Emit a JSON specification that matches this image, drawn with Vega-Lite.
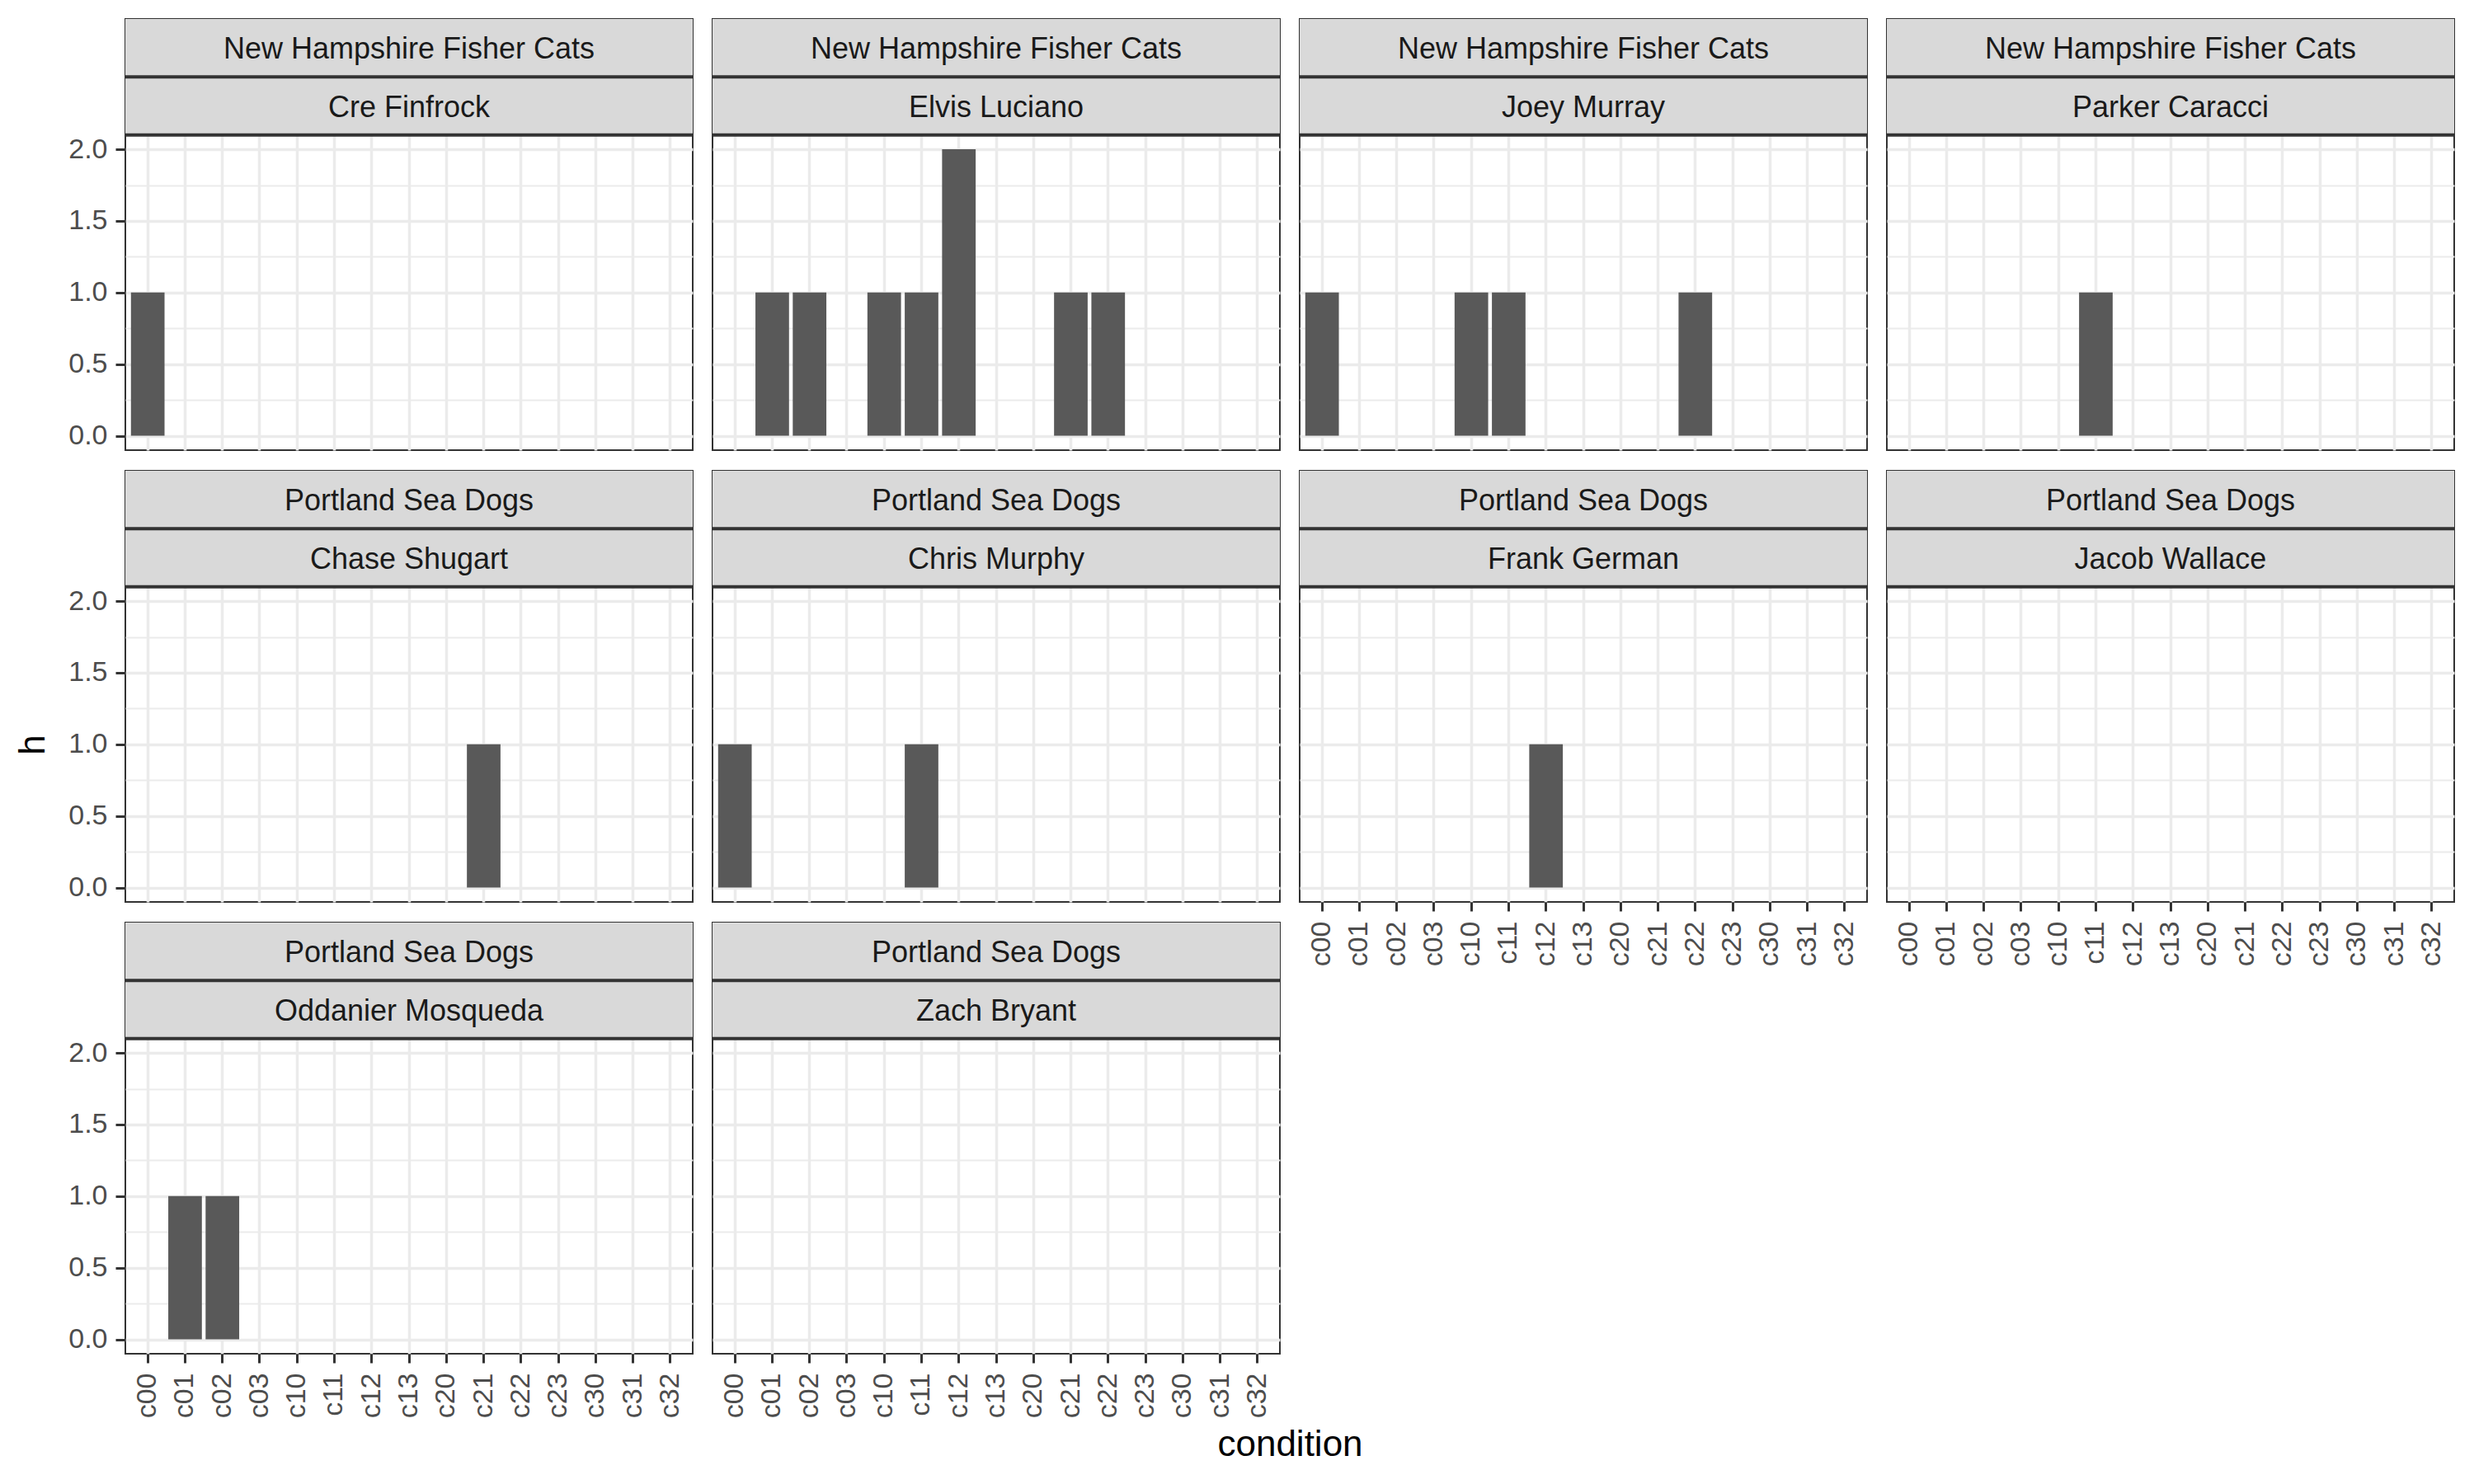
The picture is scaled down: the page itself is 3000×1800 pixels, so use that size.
{
  "$schema": "https://vega.github.io/schema/vega-lite/v6.json",
  "background": "white",
  "padding": {"left": 17, "top": 22, "right": 0, "bottom": 0},
  "autosize": {"type": "pad"},
  "columns": 4,
  "spacing": {"row": 25, "column": 24},
  "bounds": "flush",
  "datasets": {
    "bars": [
      {"team": "New Hampshire Fisher Cats", "player": "Cre Finfrock", "condition": "c00", "h": 1},
      {"team": "New Hampshire Fisher Cats", "player": "Elvis Luciano", "condition": "c01", "h": 1},
      {"team": "New Hampshire Fisher Cats", "player": "Elvis Luciano", "condition": "c02", "h": 1},
      {"team": "New Hampshire Fisher Cats", "player": "Elvis Luciano", "condition": "c10", "h": 1},
      {"team": "New Hampshire Fisher Cats", "player": "Elvis Luciano", "condition": "c11", "h": 1},
      {"team": "New Hampshire Fisher Cats", "player": "Elvis Luciano", "condition": "c12", "h": 2},
      {"team": "New Hampshire Fisher Cats", "player": "Elvis Luciano", "condition": "c21", "h": 1},
      {"team": "New Hampshire Fisher Cats", "player": "Elvis Luciano", "condition": "c22", "h": 1},
      {"team": "New Hampshire Fisher Cats", "player": "Joey Murray", "condition": "c00", "h": 1},
      {"team": "New Hampshire Fisher Cats", "player": "Joey Murray", "condition": "c10", "h": 1},
      {"team": "New Hampshire Fisher Cats", "player": "Joey Murray", "condition": "c11", "h": 1},
      {"team": "New Hampshire Fisher Cats", "player": "Joey Murray", "condition": "c22", "h": 1},
      {"team": "New Hampshire Fisher Cats", "player": "Parker Caracci", "condition": "c11", "h": 1},
      {"team": "Portland Sea Dogs", "player": "Chase Shugart", "condition": "c21", "h": 1},
      {"team": "Portland Sea Dogs", "player": "Chris Murphy", "condition": "c00", "h": 1},
      {"team": "Portland Sea Dogs", "player": "Chris Murphy", "condition": "c11", "h": 1},
      {"team": "Portland Sea Dogs", "player": "Frank German", "condition": "c12", "h": 1},
      {"team": "Portland Sea Dogs", "player": "Oddanier Mosqueda", "condition": "c01", "h": 1},
      {"team": "Portland Sea Dogs", "player": "Oddanier Mosqueda", "condition": "c02", "h": 1}
    ],
    "panels": [
      {"team": "New Hampshire Fisher Cats", "player": "Cre Finfrock"},
      {"team": "New Hampshire Fisher Cats", "player": "Elvis Luciano"},
      {"team": "New Hampshire Fisher Cats", "player": "Joey Murray"},
      {"team": "New Hampshire Fisher Cats", "player": "Parker Caracci"},
      {"team": "Portland Sea Dogs", "player": "Chase Shugart"},
      {"team": "Portland Sea Dogs", "player": "Chris Murphy"},
      {"team": "Portland Sea Dogs", "player": "Frank German"},
      {"team": "Portland Sea Dogs", "player": "Jacob Wallace"},
      {"team": "Portland Sea Dogs", "player": "Oddanier Mosqueda"},
      {"team": "Portland Sea Dogs", "player": "Zach Bryant"}
    ]
  },
  "concat": [
    {
      "width": 688, "height": 523,
      "resolve": {"axis": {"y": "independent"}},
      "layer": [
        {"data": {"name": "panels"}, "transform": [{"filter": {"field": "player", "equal": "Cre Finfrock"}}],
         "mark": {"type": "rect", "fill": "#d9d9d9"},
         "encoding": {"y": {"datum": 2.1, "type": "quantitative", "scale": {"domain": [-0.1, 2.91], "nice": false, "zero": false}, "axis": {"orient": "right", "values": [0.25, 0.75, 1.25, 1.75], "grid": true, "gridWidth": 2, "labels": false, "ticks": false, "domain": false, "title": null}}, "y2": {"datum": 2.91}}},
        {"data": {"name": "bars"}, "transform": [{"filter": {"field": "player", "equal": "Cre Finfrock"}}],
         "mark": {"type": "bar", "color": "#595959"},
         "encoding": {
           "x": {"field": "condition", "type": "nominal", "scale": {"domain": ["c00","c01","c02","c03","c10","c11","c12","c13","c20","c21","c22","c23","c30","c31","c32"], "paddingInner": 0.1, "paddingOuter": 0.15}, "axis": {"grid": true, "bandPosition": 0.5, "labels": false, "ticks": false, "title": null}},
           "y": {"field": "h", "type": "quantitative", "scale": {"domain": [-0.1, 2.91], "nice": false, "zero": false}, "axis": {"values": [0, 0.5, 1, 1.5, 2], "format": ".1f", "grid": true, "title": null}}}},
        {"data": {"name": "panels"}, "transform": [{"filter": {"field": "player", "equal": "Cre Finfrock"}}],
         "mark": {"type": "rule", "color": "#333333", "strokeWidth": 4}, "encoding": {"y": {"datum": 2.1, "type": "quantitative", "axis": null}}},
        {"data": {"name": "panels"}, "transform": [{"filter": {"field": "player", "equal": "Cre Finfrock"}}],
         "mark": {"type": "rule", "color": "#333333", "strokeWidth": 4}, "encoding": {"y": {"datum": 2.505, "type": "quantitative", "axis": null}}},
        {"data": {"name": "panels"}, "transform": [{"filter": {"field": "player", "equal": "Cre Finfrock"}}],
         "mark": {"type": "text", "fontSize": 36, "color": "#1a1a1a", "baseline": "middle", "dy": 2}, "encoding": {"y": {"datum": 2.7075, "type": "quantitative", "axis": null}, "text": {"field": "team"}}},
        {"data": {"name": "panels"}, "transform": [{"filter": {"field": "player", "equal": "Cre Finfrock"}}],
         "mark": {"type": "text", "fontSize": 36, "color": "#1a1a1a", "baseline": "middle", "dy": 2}, "encoding": {"y": {"datum": 2.3025, "type": "quantitative", "axis": null}, "text": {"field": "player"}}}
      ]
    },
    {
      "width": 688, "height": 523,
      "resolve": {"axis": {"y": "independent"}},
      "layer": [
        {"data": {"name": "panels"}, "transform": [{"filter": {"field": "player", "equal": "Elvis Luciano"}}],
         "mark": {"type": "rect", "fill": "#d9d9d9"},
         "encoding": {"y": {"datum": 2.1, "type": "quantitative", "scale": {"domain": [-0.1, 2.91], "nice": false, "zero": false}, "axis": {"orient": "right", "values": [0.25, 0.75, 1.25, 1.75], "grid": true, "gridWidth": 2, "labels": false, "ticks": false, "domain": false, "title": null}}, "y2": {"datum": 2.91}}},
        {"data": {"name": "bars"}, "transform": [{"filter": {"field": "player", "equal": "Elvis Luciano"}}],
         "mark": {"type": "bar", "color": "#595959"},
         "encoding": {
           "x": {"field": "condition", "type": "nominal", "scale": {"domain": ["c00","c01","c02","c03","c10","c11","c12","c13","c20","c21","c22","c23","c30","c31","c32"], "paddingInner": 0.1, "paddingOuter": 0.15}, "axis": {"grid": true, "bandPosition": 0.5, "labels": false, "ticks": false, "title": null}},
           "y": {"field": "h", "type": "quantitative", "scale": {"domain": [-0.1, 2.91], "nice": false, "zero": false}, "axis": {"values": [0, 0.5, 1, 1.5, 2], "grid": true, "labels": false, "ticks": false, "title": null}}}},
        {"data": {"name": "panels"}, "transform": [{"filter": {"field": "player", "equal": "Elvis Luciano"}}],
         "mark": {"type": "rule", "color": "#333333", "strokeWidth": 4}, "encoding": {"y": {"datum": 2.1, "type": "quantitative", "axis": null}}},
        {"data": {"name": "panels"}, "transform": [{"filter": {"field": "player", "equal": "Elvis Luciano"}}],
         "mark": {"type": "rule", "color": "#333333", "strokeWidth": 4}, "encoding": {"y": {"datum": 2.505, "type": "quantitative", "axis": null}}},
        {"data": {"name": "panels"}, "transform": [{"filter": {"field": "player", "equal": "Elvis Luciano"}}],
         "mark": {"type": "text", "fontSize": 36, "color": "#1a1a1a", "baseline": "middle", "dy": 2}, "encoding": {"y": {"datum": 2.7075, "type": "quantitative", "axis": null}, "text": {"field": "team"}}},
        {"data": {"name": "panels"}, "transform": [{"filter": {"field": "player", "equal": "Elvis Luciano"}}],
         "mark": {"type": "text", "fontSize": 36, "color": "#1a1a1a", "baseline": "middle", "dy": 2}, "encoding": {"y": {"datum": 2.3025, "type": "quantitative", "axis": null}, "text": {"field": "player"}}}
      ]
    },
    {
      "width": 688, "height": 523,
      "resolve": {"axis": {"y": "independent"}},
      "layer": [
        {"data": {"name": "panels"}, "transform": [{"filter": {"field": "player", "equal": "Joey Murray"}}],
         "mark": {"type": "rect", "fill": "#d9d9d9"},
         "encoding": {"y": {"datum": 2.1, "type": "quantitative", "scale": {"domain": [-0.1, 2.91], "nice": false, "zero": false}, "axis": {"orient": "right", "values": [0.25, 0.75, 1.25, 1.75], "grid": true, "gridWidth": 2, "labels": false, "ticks": false, "domain": false, "title": null}}, "y2": {"datum": 2.91}}},
        {"data": {"name": "bars"}, "transform": [{"filter": {"field": "player", "equal": "Joey Murray"}}],
         "mark": {"type": "bar", "color": "#595959"},
         "encoding": {
           "x": {"field": "condition", "type": "nominal", "scale": {"domain": ["c00","c01","c02","c03","c10","c11","c12","c13","c20","c21","c22","c23","c30","c31","c32"], "paddingInner": 0.1, "paddingOuter": 0.15}, "axis": {"grid": true, "bandPosition": 0.5, "labels": false, "ticks": false, "title": null}},
           "y": {"field": "h", "type": "quantitative", "scale": {"domain": [-0.1, 2.91], "nice": false, "zero": false}, "axis": {"values": [0, 0.5, 1, 1.5, 2], "grid": true, "labels": false, "ticks": false, "title": null}}}},
        {"data": {"name": "panels"}, "transform": [{"filter": {"field": "player", "equal": "Joey Murray"}}],
         "mark": {"type": "rule", "color": "#333333", "strokeWidth": 4}, "encoding": {"y": {"datum": 2.1, "type": "quantitative", "axis": null}}},
        {"data": {"name": "panels"}, "transform": [{"filter": {"field": "player", "equal": "Joey Murray"}}],
         "mark": {"type": "rule", "color": "#333333", "strokeWidth": 4}, "encoding": {"y": {"datum": 2.505, "type": "quantitative", "axis": null}}},
        {"data": {"name": "panels"}, "transform": [{"filter": {"field": "player", "equal": "Joey Murray"}}],
         "mark": {"type": "text", "fontSize": 36, "color": "#1a1a1a", "baseline": "middle", "dy": 2}, "encoding": {"y": {"datum": 2.7075, "type": "quantitative", "axis": null}, "text": {"field": "team"}}},
        {"data": {"name": "panels"}, "transform": [{"filter": {"field": "player", "equal": "Joey Murray"}}],
         "mark": {"type": "text", "fontSize": 36, "color": "#1a1a1a", "baseline": "middle", "dy": 2}, "encoding": {"y": {"datum": 2.3025, "type": "quantitative", "axis": null}, "text": {"field": "player"}}}
      ]
    },
    {
      "width": 688, "height": 523,
      "resolve": {"axis": {"y": "independent"}},
      "layer": [
        {"data": {"name": "panels"}, "transform": [{"filter": {"field": "player", "equal": "Parker Caracci"}}],
         "mark": {"type": "rect", "fill": "#d9d9d9"},
         "encoding": {"y": {"datum": 2.1, "type": "quantitative", "scale": {"domain": [-0.1, 2.91], "nice": false, "zero": false}, "axis": {"orient": "right", "values": [0.25, 0.75, 1.25, 1.75], "grid": true, "gridWidth": 2, "labels": false, "ticks": false, "domain": false, "title": null}}, "y2": {"datum": 2.91}}},
        {"data": {"name": "bars"}, "transform": [{"filter": {"field": "player", "equal": "Parker Caracci"}}],
         "mark": {"type": "bar", "color": "#595959"},
         "encoding": {
           "x": {"field": "condition", "type": "nominal", "scale": {"domain": ["c00","c01","c02","c03","c10","c11","c12","c13","c20","c21","c22","c23","c30","c31","c32"], "paddingInner": 0.1, "paddingOuter": 0.15}, "axis": {"grid": true, "bandPosition": 0.5, "labels": false, "ticks": false, "title": null}},
           "y": {"field": "h", "type": "quantitative", "scale": {"domain": [-0.1, 2.91], "nice": false, "zero": false}, "axis": {"values": [0, 0.5, 1, 1.5, 2], "grid": true, "labels": false, "ticks": false, "title": null}}}},
        {"data": {"name": "panels"}, "transform": [{"filter": {"field": "player", "equal": "Parker Caracci"}}],
         "mark": {"type": "rule", "color": "#333333", "strokeWidth": 4}, "encoding": {"y": {"datum": 2.1, "type": "quantitative", "axis": null}}},
        {"data": {"name": "panels"}, "transform": [{"filter": {"field": "player", "equal": "Parker Caracci"}}],
         "mark": {"type": "rule", "color": "#333333", "strokeWidth": 4}, "encoding": {"y": {"datum": 2.505, "type": "quantitative", "axis": null}}},
        {"data": {"name": "panels"}, "transform": [{"filter": {"field": "player", "equal": "Parker Caracci"}}],
         "mark": {"type": "text", "fontSize": 36, "color": "#1a1a1a", "baseline": "middle", "dy": 2}, "encoding": {"y": {"datum": 2.7075, "type": "quantitative", "axis": null}, "text": {"field": "team"}}},
        {"data": {"name": "panels"}, "transform": [{"filter": {"field": "player", "equal": "Parker Caracci"}}],
         "mark": {"type": "text", "fontSize": 36, "color": "#1a1a1a", "baseline": "middle", "dy": 2}, "encoding": {"y": {"datum": 2.3025, "type": "quantitative", "axis": null}, "text": {"field": "player"}}}
      ]
    },
    {
      "width": 688, "height": 523,
      "resolve": {"axis": {"y": "independent"}},
      "layer": [
        {"data": {"name": "panels"}, "transform": [{"filter": {"field": "player", "equal": "Chase Shugart"}}],
         "mark": {"type": "rect", "fill": "#d9d9d9"},
         "encoding": {"y": {"datum": 2.1, "type": "quantitative", "scale": {"domain": [-0.1, 2.91], "nice": false, "zero": false}, "axis": {"orient": "right", "values": [0.25, 0.75, 1.25, 1.75], "grid": true, "gridWidth": 2, "labels": false, "ticks": false, "domain": false, "title": null}}, "y2": {"datum": 2.91}}},
        {"data": {"name": "bars"}, "transform": [{"filter": {"field": "player", "equal": "Chase Shugart"}}],
         "mark": {"type": "bar", "color": "#595959"},
         "encoding": {
           "x": {"field": "condition", "type": "nominal", "scale": {"domain": ["c00","c01","c02","c03","c10","c11","c12","c13","c20","c21","c22","c23","c30","c31","c32"], "paddingInner": 0.1, "paddingOuter": 0.15}, "axis": {"grid": true, "bandPosition": 0.5, "labels": false, "ticks": false, "title": null}},
           "y": {"field": "h", "type": "quantitative", "scale": {"domain": [-0.1, 2.91], "nice": false, "zero": false}, "axis": {"values": [0, 0.5, 1, 1.5, 2], "format": ".1f", "grid": true, "title": "h", "titleY": 332, "titlePadding": 20}}}},
        {"data": {"name": "panels"}, "transform": [{"filter": {"field": "player", "equal": "Chase Shugart"}}],
         "mark": {"type": "rule", "color": "#333333", "strokeWidth": 4}, "encoding": {"y": {"datum": 2.1, "type": "quantitative", "axis": null}}},
        {"data": {"name": "panels"}, "transform": [{"filter": {"field": "player", "equal": "Chase Shugart"}}],
         "mark": {"type": "rule", "color": "#333333", "strokeWidth": 4}, "encoding": {"y": {"datum": 2.505, "type": "quantitative", "axis": null}}},
        {"data": {"name": "panels"}, "transform": [{"filter": {"field": "player", "equal": "Chase Shugart"}}],
         "mark": {"type": "text", "fontSize": 36, "color": "#1a1a1a", "baseline": "middle", "dy": 2}, "encoding": {"y": {"datum": 2.7075, "type": "quantitative", "axis": null}, "text": {"field": "team"}}},
        {"data": {"name": "panels"}, "transform": [{"filter": {"field": "player", "equal": "Chase Shugart"}}],
         "mark": {"type": "text", "fontSize": 36, "color": "#1a1a1a", "baseline": "middle", "dy": 2}, "encoding": {"y": {"datum": 2.3025, "type": "quantitative", "axis": null}, "text": {"field": "player"}}}
      ]
    },
    {
      "width": 688, "height": 523,
      "resolve": {"axis": {"y": "independent"}},
      "layer": [
        {"data": {"name": "panels"}, "transform": [{"filter": {"field": "player", "equal": "Chris Murphy"}}],
         "mark": {"type": "rect", "fill": "#d9d9d9"},
         "encoding": {"y": {"datum": 2.1, "type": "quantitative", "scale": {"domain": [-0.1, 2.91], "nice": false, "zero": false}, "axis": {"orient": "right", "values": [0.25, 0.75, 1.25, 1.75], "grid": true, "gridWidth": 2, "labels": false, "ticks": false, "domain": false, "title": null}}, "y2": {"datum": 2.91}}},
        {"data": {"name": "bars"}, "transform": [{"filter": {"field": "player", "equal": "Chris Murphy"}}],
         "mark": {"type": "bar", "color": "#595959"},
         "encoding": {
           "x": {"field": "condition", "type": "nominal", "scale": {"domain": ["c00","c01","c02","c03","c10","c11","c12","c13","c20","c21","c22","c23","c30","c31","c32"], "paddingInner": 0.1, "paddingOuter": 0.15}, "axis": {"grid": true, "bandPosition": 0.5, "labels": false, "ticks": false, "title": null}},
           "y": {"field": "h", "type": "quantitative", "scale": {"domain": [-0.1, 2.91], "nice": false, "zero": false}, "axis": {"values": [0, 0.5, 1, 1.5, 2], "grid": true, "labels": false, "ticks": false, "title": null}}}},
        {"data": {"name": "panels"}, "transform": [{"filter": {"field": "player", "equal": "Chris Murphy"}}],
         "mark": {"type": "rule", "color": "#333333", "strokeWidth": 4}, "encoding": {"y": {"datum": 2.1, "type": "quantitative", "axis": null}}},
        {"data": {"name": "panels"}, "transform": [{"filter": {"field": "player", "equal": "Chris Murphy"}}],
         "mark": {"type": "rule", "color": "#333333", "strokeWidth": 4}, "encoding": {"y": {"datum": 2.505, "type": "quantitative", "axis": null}}},
        {"data": {"name": "panels"}, "transform": [{"filter": {"field": "player", "equal": "Chris Murphy"}}],
         "mark": {"type": "text", "fontSize": 36, "color": "#1a1a1a", "baseline": "middle", "dy": 2}, "encoding": {"y": {"datum": 2.7075, "type": "quantitative", "axis": null}, "text": {"field": "team"}}},
        {"data": {"name": "panels"}, "transform": [{"filter": {"field": "player", "equal": "Chris Murphy"}}],
         "mark": {"type": "text", "fontSize": 36, "color": "#1a1a1a", "baseline": "middle", "dy": 2}, "encoding": {"y": {"datum": 2.3025, "type": "quantitative", "axis": null}, "text": {"field": "player"}}}
      ]
    },
    {
      "width": 688, "height": 523,
      "resolve": {"axis": {"y": "independent"}},
      "layer": [
        {"data": {"name": "panels"}, "transform": [{"filter": {"field": "player", "equal": "Frank German"}}],
         "mark": {"type": "rect", "fill": "#d9d9d9"},
         "encoding": {"y": {"datum": 2.1, "type": "quantitative", "scale": {"domain": [-0.1, 2.91], "nice": false, "zero": false}, "axis": {"orient": "right", "values": [0.25, 0.75, 1.25, 1.75], "grid": true, "gridWidth": 2, "labels": false, "ticks": false, "domain": false, "title": null}}, "y2": {"datum": 2.91}}},
        {"data": {"name": "bars"}, "transform": [{"filter": {"field": "player", "equal": "Frank German"}}],
         "mark": {"type": "bar", "color": "#595959"},
         "encoding": {
           "x": {"field": "condition", "type": "nominal", "scale": {"domain": ["c00","c01","c02","c03","c10","c11","c12","c13","c20","c21","c22","c23","c30","c31","c32"], "paddingInner": 0.1, "paddingOuter": 0.15}, "axis": {"grid": true, "bandPosition": 0.5, "labelAngle": -90, "labelPadding": 12, "tickSize": 11, "title": null}},
           "y": {"field": "h", "type": "quantitative", "scale": {"domain": [-0.1, 2.91], "nice": false, "zero": false}, "axis": {"values": [0, 0.5, 1, 1.5, 2], "grid": true, "labels": false, "ticks": false, "title": null}}}},
        {"data": {"name": "panels"}, "transform": [{"filter": {"field": "player", "equal": "Frank German"}}],
         "mark": {"type": "rule", "color": "#333333", "strokeWidth": 4}, "encoding": {"y": {"datum": 2.1, "type": "quantitative", "axis": null}}},
        {"data": {"name": "panels"}, "transform": [{"filter": {"field": "player", "equal": "Frank German"}}],
         "mark": {"type": "rule", "color": "#333333", "strokeWidth": 4}, "encoding": {"y": {"datum": 2.505, "type": "quantitative", "axis": null}}},
        {"data": {"name": "panels"}, "transform": [{"filter": {"field": "player", "equal": "Frank German"}}],
         "mark": {"type": "text", "fontSize": 36, "color": "#1a1a1a", "baseline": "middle", "dy": 2}, "encoding": {"y": {"datum": 2.7075, "type": "quantitative", "axis": null}, "text": {"field": "team"}}},
        {"data": {"name": "panels"}, "transform": [{"filter": {"field": "player", "equal": "Frank German"}}],
         "mark": {"type": "text", "fontSize": 36, "color": "#1a1a1a", "baseline": "middle", "dy": 2}, "encoding": {"y": {"datum": 2.3025, "type": "quantitative", "axis": null}, "text": {"field": "player"}}}
      ]
    },
    {
      "width": 688, "height": 523,
      "resolve": {"axis": {"y": "independent"}},
      "layer": [
        {"data": {"name": "panels"}, "transform": [{"filter": {"field": "player", "equal": "Jacob Wallace"}}],
         "mark": {"type": "rect", "fill": "#d9d9d9"},
         "encoding": {"y": {"datum": 2.1, "type": "quantitative", "scale": {"domain": [-0.1, 2.91], "nice": false, "zero": false}, "axis": {"orient": "right", "values": [0.25, 0.75, 1.25, 1.75], "grid": true, "gridWidth": 2, "labels": false, "ticks": false, "domain": false, "title": null}}, "y2": {"datum": 2.91}}},
        {"data": {"name": "bars"}, "transform": [{"filter": {"field": "player", "equal": "Jacob Wallace"}}],
         "mark": {"type": "bar", "color": "#595959"},
         "encoding": {
           "x": {"field": "condition", "type": "nominal", "scale": {"domain": ["c00","c01","c02","c03","c10","c11","c12","c13","c20","c21","c22","c23","c30","c31","c32"], "paddingInner": 0.1, "paddingOuter": 0.15}, "axis": {"grid": true, "bandPosition": 0.5, "labelAngle": -90, "labelPadding": 12, "tickSize": 11, "title": null}},
           "y": {"field": "h", "type": "quantitative", "scale": {"domain": [-0.1, 2.91], "nice": false, "zero": false}, "axis": {"values": [0, 0.5, 1, 1.5, 2], "grid": true, "labels": false, "ticks": false, "title": null}}}},
        {"data": {"name": "panels"}, "transform": [{"filter": {"field": "player", "equal": "Jacob Wallace"}}],
         "mark": {"type": "rule", "color": "#333333", "strokeWidth": 4}, "encoding": {"y": {"datum": 2.1, "type": "quantitative", "axis": null}}},
        {"data": {"name": "panels"}, "transform": [{"filter": {"field": "player", "equal": "Jacob Wallace"}}],
         "mark": {"type": "rule", "color": "#333333", "strokeWidth": 4}, "encoding": {"y": {"datum": 2.505, "type": "quantitative", "axis": null}}},
        {"data": {"name": "panels"}, "transform": [{"filter": {"field": "player", "equal": "Jacob Wallace"}}],
         "mark": {"type": "text", "fontSize": 36, "color": "#1a1a1a", "baseline": "middle", "dy": 2}, "encoding": {"y": {"datum": 2.7075, "type": "quantitative", "axis": null}, "text": {"field": "team"}}},
        {"data": {"name": "panels"}, "transform": [{"filter": {"field": "player", "equal": "Jacob Wallace"}}],
         "mark": {"type": "text", "fontSize": 36, "color": "#1a1a1a", "baseline": "middle", "dy": 2}, "encoding": {"y": {"datum": 2.3025, "type": "quantitative", "axis": null}, "text": {"field": "player"}}}
      ]
    },
    {
      "width": 688, "height": 523,
      "resolve": {"axis": {"y": "independent"}},
      "layer": [
        {"data": {"name": "panels"}, "transform": [{"filter": {"field": "player", "equal": "Oddanier Mosqueda"}}],
         "mark": {"type": "rect", "fill": "#d9d9d9"},
         "encoding": {"y": {"datum": 2.1, "type": "quantitative", "scale": {"domain": [-0.1, 2.91], "nice": false, "zero": false}, "axis": {"orient": "right", "values": [0.25, 0.75, 1.25, 1.75], "grid": true, "gridWidth": 2, "labels": false, "ticks": false, "domain": false, "title": null}}, "y2": {"datum": 2.91}}},
        {"data": {"name": "bars"}, "transform": [{"filter": {"field": "player", "equal": "Oddanier Mosqueda"}}],
         "mark": {"type": "bar", "color": "#595959"},
         "encoding": {
           "x": {"field": "condition", "type": "nominal", "scale": {"domain": ["c00","c01","c02","c03","c10","c11","c12","c13","c20","c21","c22","c23","c30","c31","c32"], "paddingInner": 0.1, "paddingOuter": 0.15}, "axis": {"grid": true, "bandPosition": 0.5, "labelAngle": -90, "labelPadding": 12, "tickSize": 11, "title": "condition", "titleX": 1412, "titlePadding": 11}},
           "y": {"field": "h", "type": "quantitative", "scale": {"domain": [-0.1, 2.91], "nice": false, "zero": false}, "axis": {"values": [0, 0.5, 1, 1.5, 2], "format": ".1f", "grid": true, "title": null}}}},
        {"data": {"name": "panels"}, "transform": [{"filter": {"field": "player", "equal": "Oddanier Mosqueda"}}],
         "mark": {"type": "rule", "color": "#333333", "strokeWidth": 4}, "encoding": {"y": {"datum": 2.1, "type": "quantitative", "axis": null}}},
        {"data": {"name": "panels"}, "transform": [{"filter": {"field": "player", "equal": "Oddanier Mosqueda"}}],
         "mark": {"type": "rule", "color": "#333333", "strokeWidth": 4}, "encoding": {"y": {"datum": 2.505, "type": "quantitative", "axis": null}}},
        {"data": {"name": "panels"}, "transform": [{"filter": {"field": "player", "equal": "Oddanier Mosqueda"}}],
         "mark": {"type": "text", "fontSize": 36, "color": "#1a1a1a", "baseline": "middle", "dy": 2}, "encoding": {"y": {"datum": 2.7075, "type": "quantitative", "axis": null}, "text": {"field": "team"}}},
        {"data": {"name": "panels"}, "transform": [{"filter": {"field": "player", "equal": "Oddanier Mosqueda"}}],
         "mark": {"type": "text", "fontSize": 36, "color": "#1a1a1a", "baseline": "middle", "dy": 2}, "encoding": {"y": {"datum": 2.3025, "type": "quantitative", "axis": null}, "text": {"field": "player"}}}
      ]
    },
    {
      "width": 688, "height": 523,
      "resolve": {"axis": {"y": "independent"}},
      "layer": [
        {"data": {"name": "panels"}, "transform": [{"filter": {"field": "player", "equal": "Zach Bryant"}}],
         "mark": {"type": "rect", "fill": "#d9d9d9"},
         "encoding": {"y": {"datum": 2.1, "type": "quantitative", "scale": {"domain": [-0.1, 2.91], "nice": false, "zero": false}, "axis": {"orient": "right", "values": [0.25, 0.75, 1.25, 1.75], "grid": true, "gridWidth": 2, "labels": false, "ticks": false, "domain": false, "title": null}}, "y2": {"datum": 2.91}}},
        {"data": {"name": "bars"}, "transform": [{"filter": {"field": "player", "equal": "Zach Bryant"}}],
         "mark": {"type": "bar", "color": "#595959"},
         "encoding": {
           "x": {"field": "condition", "type": "nominal", "scale": {"domain": ["c00","c01","c02","c03","c10","c11","c12","c13","c20","c21","c22","c23","c30","c31","c32"], "paddingInner": 0.1, "paddingOuter": 0.15}, "axis": {"grid": true, "bandPosition": 0.5, "labelAngle": -90, "labelPadding": 12, "tickSize": 11, "title": null}},
           "y": {"field": "h", "type": "quantitative", "scale": {"domain": [-0.1, 2.91], "nice": false, "zero": false}, "axis": {"values": [0, 0.5, 1, 1.5, 2], "grid": true, "labels": false, "ticks": false, "title": null}}}},
        {"data": {"name": "panels"}, "transform": [{"filter": {"field": "player", "equal": "Zach Bryant"}}],
         "mark": {"type": "rule", "color": "#333333", "strokeWidth": 4}, "encoding": {"y": {"datum": 2.1, "type": "quantitative", "axis": null}}},
        {"data": {"name": "panels"}, "transform": [{"filter": {"field": "player", "equal": "Zach Bryant"}}],
         "mark": {"type": "rule", "color": "#333333", "strokeWidth": 4}, "encoding": {"y": {"datum": 2.505, "type": "quantitative", "axis": null}}},
        {"data": {"name": "panels"}, "transform": [{"filter": {"field": "player", "equal": "Zach Bryant"}}],
         "mark": {"type": "text", "fontSize": 36, "color": "#1a1a1a", "baseline": "middle", "dy": 2}, "encoding": {"y": {"datum": 2.7075, "type": "quantitative", "axis": null}, "text": {"field": "team"}}},
        {"data": {"name": "panels"}, "transform": [{"filter": {"field": "player", "equal": "Zach Bryant"}}],
         "mark": {"type": "text", "fontSize": 36, "color": "#1a1a1a", "baseline": "middle", "dy": 2}, "encoding": {"y": {"datum": 2.3025, "type": "quantitative", "axis": null}, "text": {"field": "player"}}}
      ]
    }
  ],
  "config": {
    "font": "Liberation Sans",
    "view": {"stroke": "#333333", "strokeWidth": 2, "fill": "white"},
    "axis": {
      "domain": false,
      "gridColor": "#ebebeb",
      "gridWidth": 3.5,
      "tickColor": "#333333",
      "tickWidth": 3,
      "tickSize": 12,
      "labelColor": "#4d4d4d",
      "labelFontSize": 34,
      "labelPadding": 10,
      "labelFont": "Liberation Sans",
      "titleFont": "Liberation Sans",
      "titleFontSize": 44,
      "titleFontWeight": "normal",
      "titleColor": "black"
    }
  }
}
